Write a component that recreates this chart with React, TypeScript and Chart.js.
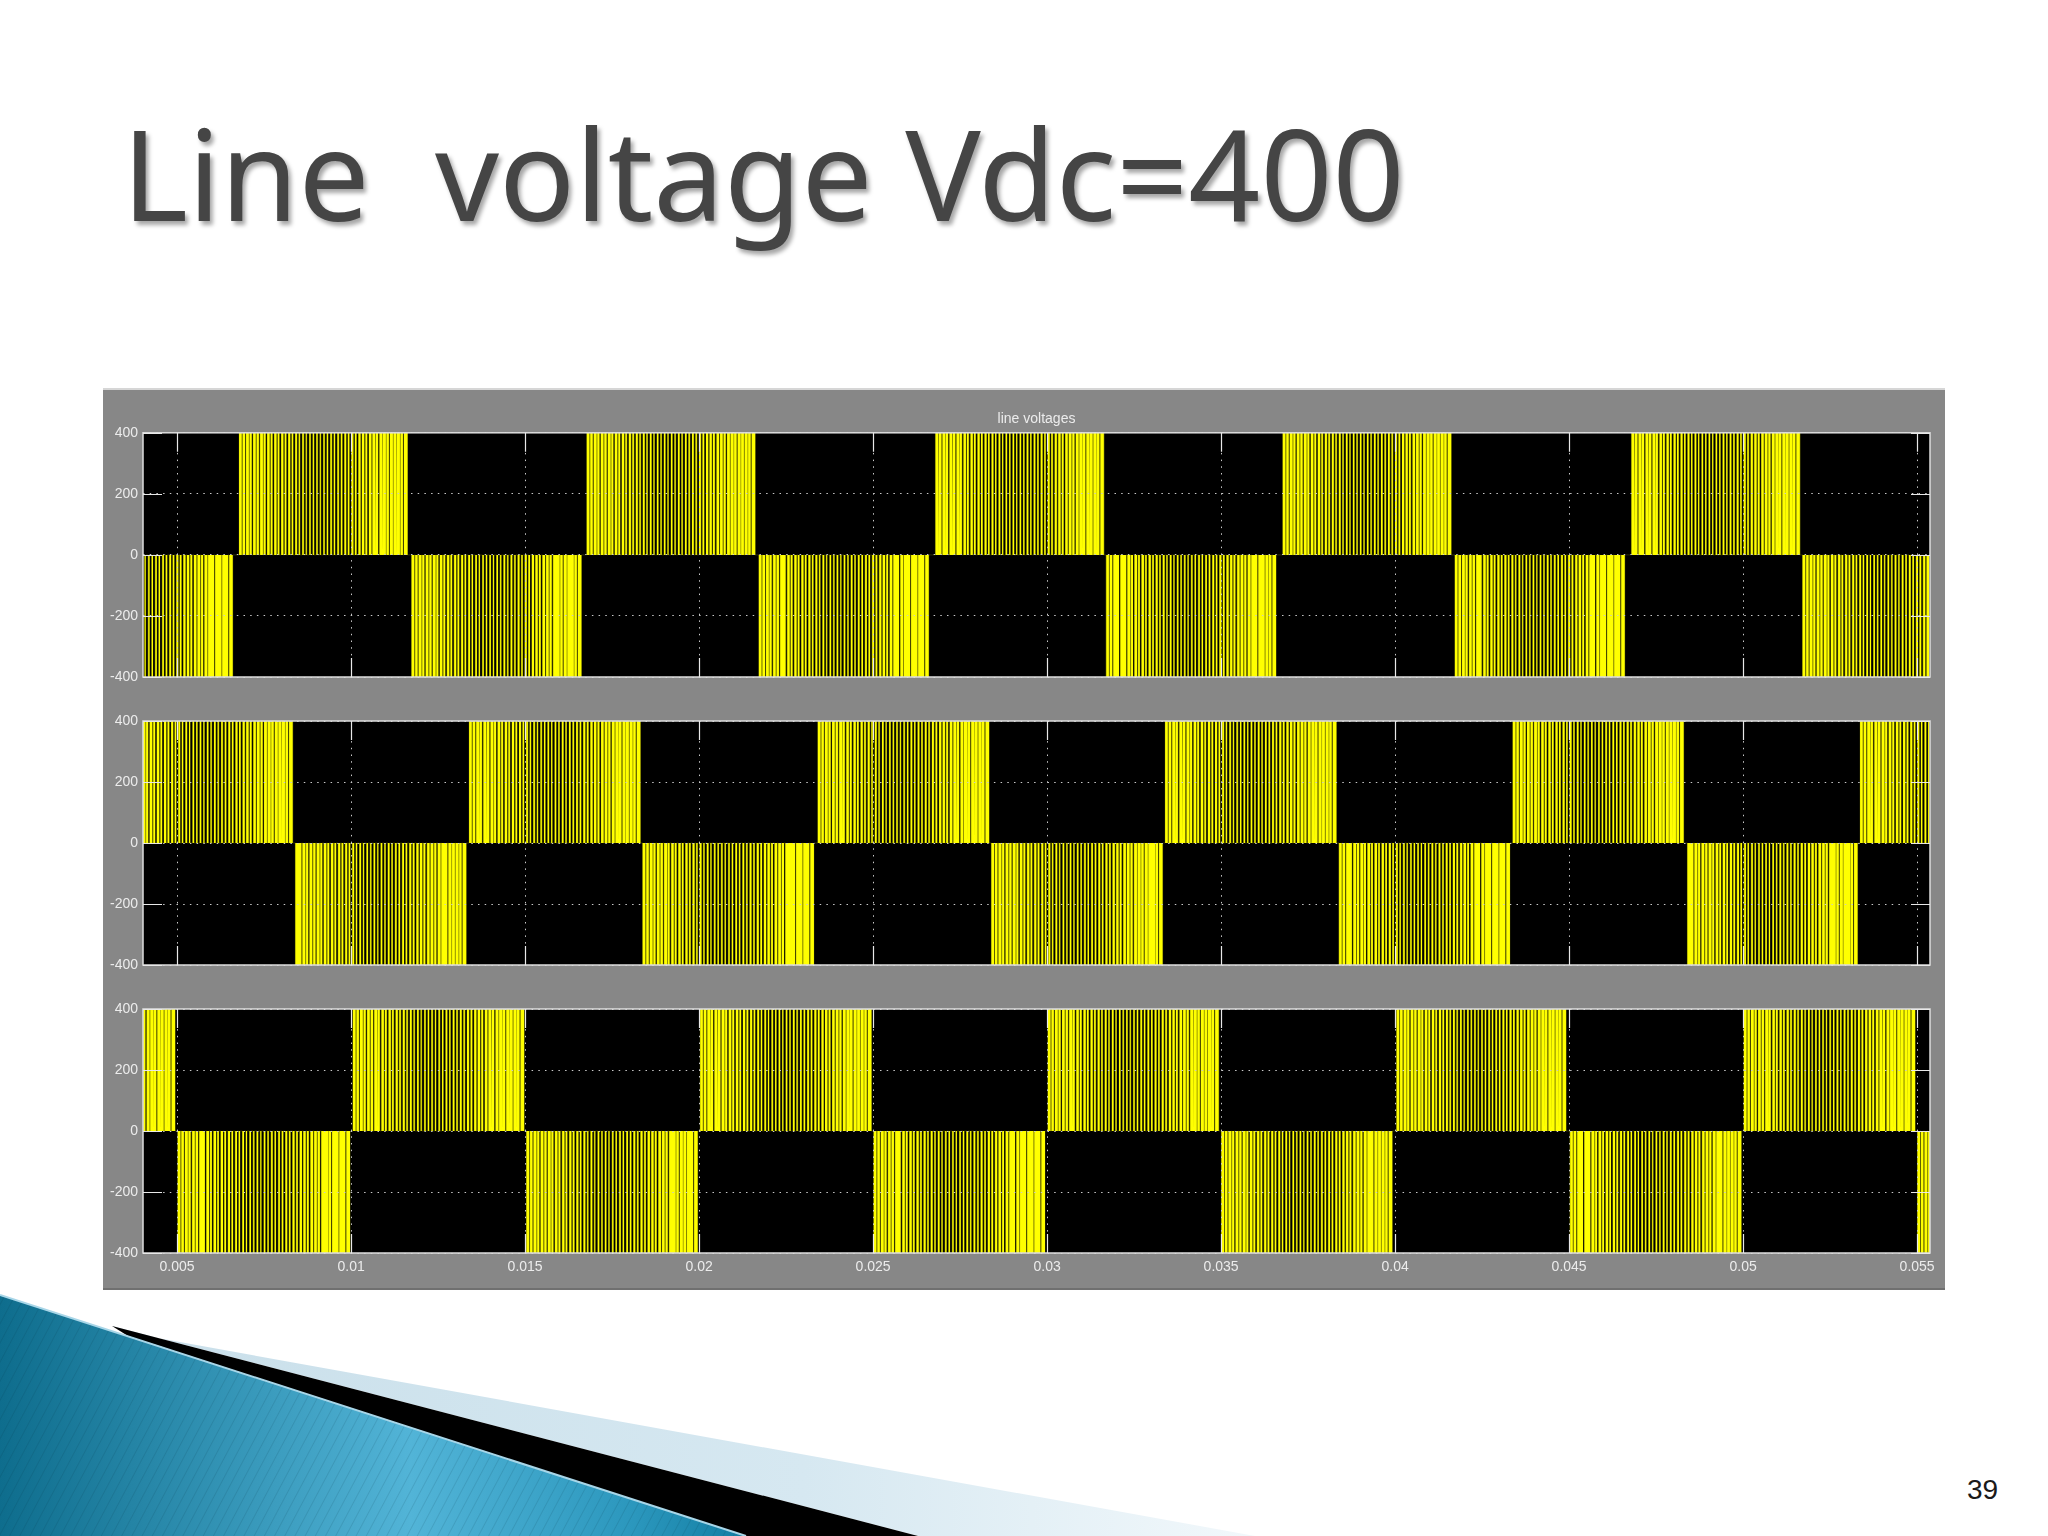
import React, { useEffect, useRef } from 'react';
import { Chart, registerables } from 'chart.js';

Chart.register(...registerables);

// ---------- data ----------
const PLOT_TITLE = 'line voltages';
const X_MIN = 0.00402;
const X_MAX = 0.05537;
const X_TICKS = [0.005, 0.01, 0.015, 0.02, 0.025, 0.03, 0.035, 0.04, 0.045, 0.05, 0.055];
const X_TICK_LABELS = ['0.005', '0.01', '0.015', '0.02', '0.025', '0.03', '0.035', '0.04', '0.045', '0.05', '0.055'];
const Y_MIN = -400;
const Y_MAX = 400;
const Y_TICKS = [-400, -200, 0, 200, 400];
const Y_TICK_LABELS = ['-400', '-200', '0', '200', '400'];
const VDC = 400;

// PWM burst windows [start, end] in seconds
const VAB_POS_BURSTS = [[0.00678, 0.01162], [0.01677, 0.02161], [0.02679, 0.03163], [0.03677, 0.04161], [0.04679, 0.05163]];
const VAB_NEG_BURSTS = [[0.00174, 0.0066], [0.01174, 0.01662], [0.02172, 0.0266], [0.0317, 0.03658], [0.04172, 0.0466], [0.05171, 0.0566]];
const VBC_POS_BURSTS = [[0.00339, 0.00832], [0.01339, 0.01831], [0.02341, 0.02833], [0.03339, 0.03831], [0.04338, 0.04829], [0.05336, 0.0583]];
const VBC_NEG_BURSTS = [[0.0084, 0.01331], [0.01838, 0.0233], [0.0284, 0.03332], [0.03839, 0.0433], [0.0484, 0.05329]];
const VCA_POS_BURSTS = [[0.00005, 0.00494], [0.01005, 0.01497], [0.02003, 0.02495], [0.03002, 0.03493], [0.04004, 0.04491], [0.05002, 0.05494]];
const VCA_NEG_BURSTS = [[0.00502, 0.00997], [0.01504, 0.01996], [0.02502, 0.02994], [0.03501, 0.03992], [0.04503, 0.04995], [0.05501, 0.0599]];

// approximate on-fraction of each switching period across one burst (read from the stripes)
const PULSE_DUTY = [
  0.75, 0.7, 0.8, 0.6, 0.75, 0.65, 0.8, 0.55, 0.7, 0.5, 0.65, 0.45,
  0.6, 0.45, 0.55, 0.4, 0.5, 0.35, 0.45, 0.3, 0.4, 0.35, 0.4, 0.3,
  0.4, 0.35, 0.45, 0.35, 0.45, 0.4, 0.5, 0.4, 0.55, 0.45, 0.6, 0.65,
  0.5, 0.7, 0.75, 0.6, 0.8, 0.85, 0.7, 0.85, 0.8, 0.85, 0.7, 0.85,
];

// ---------- build the step trace table for Chart.js ----------
function buildTrace(pos: number[][], neg: number[][]) {
  const bursts = [
    ...pos.map((b) => ({ s: b[0], e: b[1], v: VDC })),
    ...neg.map((b) => ({ s: b[0], e: b[1], v: -VDC })),
  ].sort((a, b) => a.s - b.s);
  const pts: { x: number; y: number }[] = [];
  const n = PULSE_DUTY.length;
  bursts.forEach((b) => {
    const T = (b.e - b.s) / n;
    for (let k = 0; k < n; k++) {
      const t0 = b.s + k * T;
      const t1 = k === n - 1 ? b.e : t0 + PULSE_DUTY[k] * T;
      pts.push({ x: t0, y: 0 }, { x: t0, y: b.v }, { x: t1, y: b.v }, { x: t1, y: 0 });
    }
  });
  return pts;
}

const INNER_TICK = 19;

const scopePlugin = {
  id: 'scopeFrame',
  beforeDraw(chart: any) {
    const { ctx, chartArea: a } = chart;
    ctx.save();
    ctx.fillStyle = '#000000';
    ctx.fillRect(a.left, a.top, a.right - a.left, a.bottom - a.top);
    ctx.restore();
  },
  afterDraw(chart: any) {
    const { ctx, chartArea: a, scales } = chart;
    ctx.save();
    ctx.strokeStyle = '#dedede';
    ctx.lineWidth = 1.5;
    ctx.strokeRect(a.left, a.top, a.right - a.left, a.bottom - a.top);
    ctx.beginPath();
    scales.y.ticks.forEach((t: any) => {
      const y = Math.round(scales.y.getPixelForValue(t.value)) + 0.5;
      ctx.moveTo(a.left, y);
      ctx.lineTo(a.left + INNER_TICK, y);
      ctx.moveTo(a.right - INNER_TICK, y);
      ctx.lineTo(a.right, y);
    });
    scales.x.ticks.forEach((t: any) => {
      const x = Math.round(scales.x.getPixelForValue(t.value)) + 0.5;
      ctx.moveTo(x, a.top);
      ctx.lineTo(x, a.top + INNER_TICK);
      ctx.moveTo(x, a.bottom - INNER_TICK);
      ctx.lineTo(x, a.bottom);
    });
    ctx.strokeStyle = '#e8e8e8';
    ctx.lineWidth = 1.2;
    ctx.stroke();
    ctx.restore();
  },
};

const LABEL_FONT = { family: '"Liberation Sans", Arial, sans-serif', size: 14, weight: 'normal' as const };
const LABEL_COLOR = '#ececec';
const GRID_COLOR = '#c9c9c9';

type PanelProps = {
  top: number;
  height: number;
  pos: number[][];
  neg: number[][];
  showTitle?: boolean;
  showX?: boolean;
  padTop: number;
  padBottom: number;
};

function ScopePanel({ top, height, pos, neg, showTitle, showX, padTop, padBottom }: PanelProps) {
  const ref = useRef<HTMLCanvasElement>(null);
  useEffect(() => {
    if (!ref.current) return;
    const chart = new Chart(ref.current, {
      type: 'line',
      data: {
        datasets: [
          {
            data: buildTrace(pos, neg),
            borderColor: 'rgba(255,255,0,0.35)',
            backgroundColor: '#ffff00',
            borderWidth: 0.5,
            pointRadius: 0,
            fill: 'origin',
            tension: 0,
          },
        ],
      },
      options: {
        animation: false,
        responsive: false,
        devicePixelRatio: 1,
        parsing: false,
        normalized: true,
        events: [],
        layout: { padding: { left: 0, right: 15, top: padTop, bottom: padBottom } },
        plugins: {
          legend: { display: false },
          tooltip: { enabled: false },
          title: {
            display: !!showTitle,
            text: PLOT_TITLE,
            color: LABEL_COLOR,
            font: LABEL_FONT,
            fullSize: false,
            padding: { top: 21, bottom: 5 },
          },
        },
        scales: {
          x: {
            type: 'linear',
            min: X_MIN,
            max: X_MAX,
            afterBuildTicks: (s: any) => {
              s.ticks = X_TICKS.map((v) => ({ value: v }));
            },
            afterFit: (s: any) => {
              s.height = showX ? 30 : 0;
            },
            ticks: {
              display: !!showX,
              autoSkip: false,
              maxRotation: 0,
              padding: 6,
              color: LABEL_COLOR,
              font: LABEL_FONT,
              callback: (_v: any, i: number) => X_TICK_LABELS[i],
            },
            grid: { color: GRID_COLOR, lineWidth: 1, drawTicks: false, z: 1 },
            border: { display: false, dash: [1.5, 5.2] },
          },
          y: {
            type: 'linear',
            min: Y_MIN,
            max: Y_MAX,
            afterBuildTicks: (s: any) => {
              s.ticks = Y_TICKS.map((v) => ({ value: v }));
            },
            afterFit: (s: any) => {
              s.width = 40;
            },
            ticks: {
              padding: 5,
              color: LABEL_COLOR,
              font: LABEL_FONT,
              callback: (_v: any, i: number) => Y_TICK_LABELS[i],
            },
            grid: { color: GRID_COLOR, lineWidth: 1, drawTicks: false, z: 1 },
            border: { display: false, dash: [1.5, 5.2] },
          },
        },
      } as any,
      plugins: [scopePlugin],
    });
    return () => chart.destroy();
  }, []);
  return (
    <canvas
      ref={ref}
      width={1842}
      height={height}
      style={{ position: 'absolute', left: 103, top, width: 1842, height }}
    />
  );
}

export default function App() {
  return (
    <div
      style={{
        position: 'absolute',
        left: 0,
        top: 0,
        width: 2048,
        height: 1536,
        overflow: 'hidden',
        background: '#ffffff',
      }}
    >
      <div
        style={{
          position: 'absolute',
          left: 122,
          top: 109,
          fontFamily: '"Noto Sans", "Open Sans", sans-serif',
          fontSize: 126,
          lineHeight: '126px',
          color: '#454545',
          whiteSpace: 'pre',
          textShadow: '3px 4px 4px rgba(0,0,0,0.35)',
        }}
      >
        {'Line  voltage Vdc=400'}
      </div>

      <div
        style={{
          position: 'absolute',
          left: 103,
          top: 388,
          width: 1842,
          height: 902,
          background: '#878787',
          borderTop: '2px solid #d6d6d6',
          borderBottom: '2px solid #707070',
          boxSizing: 'border-box',
        }}
      />

      <ScopePanel top={390} height={307} pos={VAB_POS_BURSTS} neg={VAB_NEG_BURSTS} showTitle padTop={0} padBottom={20} />
      <ScopePanel top={705} height={276} pos={VBC_POS_BURSTS} neg={VBC_NEG_BURSTS} padTop={16} padBottom={16} />
      <ScopePanel top={993} height={290} pos={VCA_POS_BURSTS} neg={VCA_NEG_BURSTS} showX padTop={16} padBottom={0} />

      <svg
        style={{ position: 'absolute', left: 0, top: 1280 }}
        width={1300}
        height={256}
        viewBox="0 1280 1300 256"
      >
        <defs>
          <linearGradient id="blueG" gradientUnits="userSpaceOnUse" x1="0" y1="0" x2="746" y2="0">
            <stop offset="0" stopColor="#0e6d8d" />
            <stop offset="0.55" stopColor="#52b4d7" />
            <stop offset="0.85" stopColor="#2b97bd" />
            <stop offset="1" stopColor="#137ea3" />
          </linearGradient>
          <linearGradient id="paleG" gradientUnits="userSpaceOnUse" x1="120" y1="0" x2="1260" y2="0">
            <stop offset="0" stopColor="#c9dfea" />
            <stop offset="0.6" stopColor="#d6e8f1" />
            <stop offset="1" stopColor="#f2f8fb" />
          </linearGradient>
          <pattern id="stripes" patternUnits="userSpaceOnUse" width="9" height="9" patternTransform="rotate(28)">
            <line x1="0" y1="0" x2="0" y2="9" stroke="rgba(0,40,60,0.12)" strokeWidth="2" />
          </pattern>
        </defs>
        <polygon points="130,1333 1255,1536 918,1536 112,1326" fill="url(#paleG)" />
        <polygon points="112,1326 918,1536 746,1536 128,1336" fill="#000000" />
        <polygon points="0,1295 746,1536 0,1536" fill="url(#blueG)" />
        <polygon points="0,1295 746,1536 0,1536" fill="url(#stripes)" />
        <line x1="0" y1="1295" x2="746" y2="1536" stroke="#a8d6e8" strokeWidth="2" />
      </svg>

      <div
        style={{
          position: 'absolute',
          left: 1967,
          top: 1474,
          fontFamily: '"Liberation Sans", Arial, sans-serif',
          fontSize: 28,
          lineHeight: '32px',
          color: '#1a1a1a',
        }}
      >
        39
      </div>
    </div>
  );
}
